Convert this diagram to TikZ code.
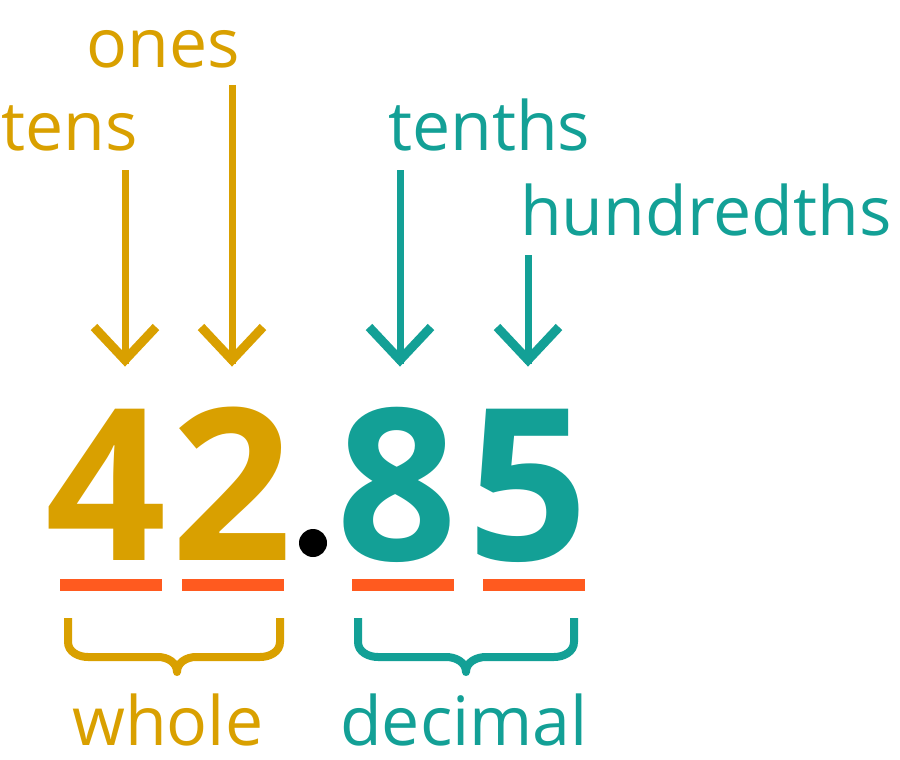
\documentclass[tikz,border=0pt]{standalone}
\usepackage{fontspec}
\setmainfont{Open Sans}
\definecolor{gold}{HTML}{D9A000}
\definecolor{teal2}{HTML}{13A096}
\definecolor{ored}{HTML}{FF5A1F}
\begin{document}
\begin{tikzpicture}[x=1pt,y=-1pt,
  lbl/.style={font=\fontsize{68}{74}\selectfont,inner sep=0pt,anchor=base west},
  dig/.style={font=\fontsize{212}{220}\selectfont\bfseries,inner sep=0pt,anchor=base},
  shaft/.style={line width=7pt},
  chev/.style={line width=9pt,miter limit=10},
  uline/.style={ored,line width=12pt},
  brace/.style={line width=8pt,line join=round}]
\useasboundingbox (0,0) rectangle (900,760);
% labels
\node[lbl,text=gold] (ones) at (86,68) {ones};
\node[lbl,text=gold] (tens) at (1,150) {tens};
\node[lbl,text=teal2] (tenths) at (388,150) {tenths};
\node[lbl,text=teal2] (hund) at (520,235) {hundredths};
\node[lbl,text=gold] (whole) at (72,745) {whole};
\node[lbl,text=teal2] (dec) at (340,745) {decimal};
% digits
\node[dig,text=gold] (d4) at (106,560) {4};
\node[dig,text=gold] (d2) at (232,560) {2};
\node[dig,text=teal2] (d8) at (397,560) {8};
\node[dig,text=teal2] (d5) at (528,560) {5};
\fill (313,543) circle (14);
% arrows
\coordinate (a1) at (125,170); \coordinate (t1) at (125,360);
\coordinate (a2) at (232,85);  \coordinate (t2) at (232,360);
\coordinate (a3) at (400,170); \coordinate (t3) at (400,360);
\coordinate (a4) at (528,255); \coordinate (t4) at (528,360);
\foreach \a/\t/\c in {a1/t1/gold,a2/t2/gold,a3/t3/teal2,a4/t4/teal2}{
  \draw[shaft,\c] (\a) -- ([yshift=-4]\t);
  \draw[chev,\c] ([shift={(-31,-33)}]\t) -- (\t) -- ([shift={(31,-33)}]\t);
}
% underlines
\draw[uline] (60,585) -- (162,585);
\draw[uline] (182,585) -- (284,585);
\draw[uline] (352,585) -- (454,585);
\draw[uline] (483,585) -- (585,585);
% braces
\draw[brace,gold] (68,618) -- (68,642) to[out=-90,in=180] (88,657) -- (158,657) to[out=0,in=90] (177,672) to[out=90,in=180] (196,657) -- (260,657) to[out=0,in=-90] (280,642) -- (280,618);
\draw[brace,teal2] (358,618) -- (358,642) to[out=-90,in=180] (378,657) -- (446,657) to[out=0,in=90] (466,672) to[out=90,in=180] (486,657) -- (554,657) to[out=0,in=-90] (574,642) -- (574,618);
\end{tikzpicture}
\end{document}
